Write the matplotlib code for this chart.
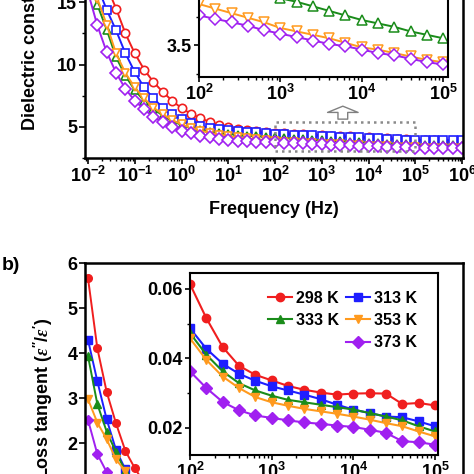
import numpy as np
import matplotlib
matplotlib.use("Agg")
import matplotlib.pyplot as plt
from matplotlib.ticker import LogLocator, FuncFormatter, MultipleLocator, NullFormatter

plt.rcParams['font.family'] = ['Liberation Sans', 'DejaVu Sans']
plt.rcParams['font.weight'] = 'bold'
plt.rcParams['axes.labelweight'] = 'bold'
plt.rcParams['mathtext.fontset'] = 'custom'
plt.rcParams['mathtext.rm'] = 'Liberation Sans:bold'
plt.rcParams['mathtext.bf'] = 'Liberation Sans:bold'
plt.rcParams['mathtext.it'] = 'Liberation Serif:italic:bold'

# frequency grid, 5 points per decade from 1e-2 to 1e6 Hz
freq = 10 ** np.linspace(-2, 6, 41)

temps = ['298 K', '313 K', '333 K', '353 K', '373 K']
colors = ['#f01e1e', '#1e1eff', '#1a8c1a', '#ff9a1e', '#a020f0']
markers = ['o', 's', '^', 'v', 'D']

# (a) dielectric constant
eps_298 = [20.5, 18.2, 16.3, 14.5, 12.5, 10.9, 9.6, 8.6, 7.8, 7.1, 6.5, 6.05, 5.7, 5.4, 5.15,
           4.95, 4.82, 4.72, 4.64, 4.57, 4.52, 4.48, 4.44, 4.40, 4.37, 4.33, 4.30, 4.26, 4.23,
           4.19, 4.16, 4.12, 4.09, 4.05, 4.01, 3.97, 3.94, 3.92, 3.90, 3.89, 3.88]
eps_313 = [18.5, 16.3, 14.4, 12.75, 10.9, 9.4, 8.16, 7.28, 6.55, 6.0, 5.6, 5.3, 5.08, 4.93, 4.82,
           4.74, 4.68, 4.62, 4.56, 4.50, 4.45, 4.42, 4.38, 4.35, 4.32, 4.28, 4.25, 4.22, 4.18,
           4.15, 4.12, 4.08, 4.05, 4.02, 3.98, 3.95, 3.93, 3.92, 3.92, 3.91, 3.91]
eps_333 = [17.0, 14.8, 12.8, 10.6, 9.1, 7.95, 7.1, 6.45, 5.9, 5.48, 5.15, 4.93, 4.76, 4.62, 4.5,
           4.42, 4.36, 4.30, 4.25, 4.20, 4.15, 4.10, 4.06, 4.01, 3.96, 3.91, 3.88, 3.84, 3.80,
           3.76, 3.72, 3.69, 3.66, 3.62, 3.59, 3.56, 3.54, 3.53, 3.52, 3.51, 3.50]
eps_353 = [17.5, 15.3, 13.2, 10.9, 9.33, 8.16, 7.28, 6.55, 6.0, 5.55, 5.2, 4.93, 4.7, 4.52, 4.38,
           4.26, 4.16, 4.08, 4.01, 3.94, 3.86, 3.82, 3.78, 3.74, 3.70, 3.65, 3.62, 3.59, 3.56,
           3.52, 3.48, 3.46, 3.43, 3.40, 3.37, 3.35, 3.33, 3.32, 3.31, 3.30, 3.29]
eps_373 = [15.8, 13.15, 11.0, 9.35, 8.05, 7.1, 6.4, 5.8, 5.35, 4.98, 4.7, 4.48, 4.3, 4.15, 4.04,
           3.96, 3.90, 3.85, 3.81, 3.78, 3.76, 3.73, 3.70, 3.67, 3.63, 3.60, 3.57, 3.54, 3.51,
           3.49, 3.46, 3.43, 3.41, 3.38, 3.35, 3.33, 3.31, 3.30, 3.29, 3.28, 3.27]

# (b) loss tangent
tan_298 = [5.67, 4.11, 3.14, 2.44, 1.83, 1.45, 1.12, 0.88, 0.68, 0.53, 0.42, 0.33, 0.26, 0.21,
           0.17, 0.14, 0.115, 0.097, 0.083, 0.071,
           0.0614, 0.0516, 0.0433, 0.0379, 0.0353, 0.0337, 0.0321, 0.0310, 0.0302, 0.0296,
           0.0299, 0.0300, 0.0299, 0.0269, 0.0272, 0.0265,
           0.026, 0.026, 0.027, 0.029, 0.033]
tan_313 = [4.30, 3.38, 2.53, 1.85, 1.42, 1.08, 0.84, 0.65, 0.50, 0.39, 0.30, 0.23, 0.18, 0.14,
           0.11, 0.09, 0.075, 0.064, 0.057, 0.052,
           0.0487, 0.0428, 0.0385, 0.0356, 0.0336, 0.0320, 0.0308, 0.0296, 0.0283, 0.0267,
           0.0253, 0.0243, 0.0233, 0.0231, 0.0219, 0.0205,
           0.019, 0.018, 0.018, 0.019, 0.021]
tan_333 = [3.94, 2.87, 2.26, 1.80, 1.38, 1.05, 0.80, 0.62, 0.48, 0.37, 0.29, 0.22, 0.17, 0.135,
           0.105, 0.085, 0.07, 0.06, 0.053, 0.049,
           0.0473, 0.0411, 0.0363, 0.0329, 0.0308, 0.0293, 0.0281, 0.0274, 0.0267, 0.0260,
           0.0253, 0.0243, 0.0233, 0.0222, 0.0205, 0.0190,
           0.018, 0.017, 0.017, 0.018, 0.020]
tan_353 = [2.98, 2.46, 2.09, 1.64, 1.38, 1.05, 0.80, 0.61, 0.47, 0.36, 0.28, 0.21, 0.165, 0.13,
           0.10, 0.082, 0.068, 0.058, 0.052, 0.048,
           0.0458, 0.0396, 0.0348, 0.0315, 0.0289, 0.0274, 0.0264, 0.0255, 0.0248, 0.0241,
           0.0233, 0.0224, 0.0214, 0.0205, 0.0190, 0.0176,
           0.017, 0.016, 0.016, 0.017, 0.019]
tan_373 = [2.52, 1.76, 1.36, 1.02, 0.78, 0.60, 0.46, 0.35, 0.27, 0.21, 0.16, 0.125, 0.098, 0.078,
           0.063, 0.053, 0.046, 0.041, 0.039, 0.038,
           0.0363, 0.0315, 0.0275, 0.0251, 0.0236, 0.0229, 0.0222, 0.0216, 0.0212, 0.0207,
           0.0203, 0.0195, 0.0186, 0.0162, 0.0159, 0.0152,
           0.015, 0.014, 0.014, 0.015, 0.017]

eps_all = [eps_298, eps_313, eps_333, eps_353, eps_373]
tan_all = [tan_298, tan_313, tan_333, tan_353, tan_373]
zoom = slice(20, 36)   # 1e2 .. 1e5 Hz shown in the insets
box_y = (3.05, 5.35)   # dotted box marking the zoomed region


def sci(v, pos):
    return r'$\mathbf{10^{%d}}$' % round(np.log10(v))


def style(ax, lw=1.8, major=4, minor=2.2):
    for s in ax.spines.values():
        s.set_linewidth(lw)
    ax.tick_params(which='major', direction='out', length=major, width=1.2,
                   labelsize=13, pad=1.5)
    ax.tick_params(which='minor', direction='out', length=minor, width=1.0)
    ax.tick_params(top=False, right=False, which='both')


def logx(ax):
    ax.set_xscale('log')
    ax.xaxis.set_major_locator(LogLocator(base=10, numticks=20))
    ax.xaxis.set_minor_locator(LogLocator(base=10, subs=np.arange(2, 10), numticks=20))
    ax.xaxis.set_major_formatter(FuncFormatter(sci))
    ax.xaxis.set_minor_formatter(NullFormatter())


fig = plt.figure(figsize=(4.74, 4.74), dpi=100)
P = 474.0

# ---- panel (a)
ax1 = fig.add_axes([85 / P, 1 - 158 / P, 378 / P, 218 / P])
for y, c, m, lab in zip(eps_all, colors, markers, temps):
    ax1.plot(freq, y, color=c, marker=m, ms=6, mfc='white', mec=c, mew=1.2, lw=1.4, label=lab)
logx(ax1)
ax1.set_xlim(10 ** -2.064, 10 ** 6.02)
ax1.set_ylim(2.5, 20)
ax1.yaxis.set_major_locator(MultipleLocator(5))
ax1.yaxis.set_minor_locator(MultipleLocator(2.5))
style(ax1)
ax1.set_xlabel('Frequency (Hz)', fontsize=13, labelpad=11)
ax1.set_ylabel('Dielectric constant', fontsize=13, labelpad=13)

ax1.plot([1e2, 1e5, 1e5, 1e2, 1e2], [box_y[0], box_y[0], box_y[1], box_y[1], box_y[0]],
         color='#8a8a8a', lw=1.8, ls=(0, (1, 1.6)))
ax1.annotate('', xy=(10 ** 3.45, 6.66), xytext=(10 ** 3.45, 5.62),
             arrowprops=dict(arrowstyle='simple,head_length=0.45,head_width=2.2,tail_width=0.7',
                             fc='white', ec='#808080', lw=1.0, shrinkA=0, shrinkB=0,
                             mutation_scale=10))

ins1 = fig.add_axes([199 / P, 1 - 77 / P, 249 / P, 134.5 / P])
for y, c, m in zip(eps_all, colors, markers):
    ins1.plot(freq[zoom], y[zoom], color=c, marker=m, ms=6.5, mfc='white', mec=c, mew=1.1, lw=1.4)
logx(ins1)
ins1.set_xlim(100, 10 ** 5.06)
ins1.set_ylim(3.22, 4.4)
ins1.yaxis.set_major_locator(MultipleLocator(0.5))
ins1.yaxis.set_minor_locator(MultipleLocator(0.25))
style(ins1, lw=1.5, major=3.5, minor=2)

# ---- panel (b)
ax2 = fig.add_axes([85 / P, 1 - 533.3 / P, 378 / P, 270 / P])
for y, c, m, lab in zip(tan_all, colors, markers, temps):
    ax2.plot(freq, y, color=c, marker=m, ms=5.5, lw=1.4, label=lab)
logx(ax2)
ax2.set_xlim(10 ** -2.064, 10 ** 6.02)
ax2.set_ylim(0, 6)
ax2.yaxis.set_major_locator(MultipleLocator(1))
style(ax2)
ax2.set_ylabel("Loss tangent ($\\varepsilon''/\\varepsilon'$)", fontsize=13, labelpad=9)
fig.text(2 / P, 1 - 266 / P, 'b)', fontsize=14, fontweight='bold', va='center')

ins2 = fig.add_axes([190 / P, 1 - 455 / P, 248 / P, 182 / P])
hs = []
for y, c, m, lab in zip(tan_all, colors, markers, temps):
    h, = ins2.plot(freq[zoom], y[zoom], color=c, marker=m, ms=6, lw=1.5, label=lab)
    hs.append(h)
logx(ins2)
ins2.set_xlim(100, 1.09e5)
ins2.set_ylim(0.01223, 0.0646)
ins2.yaxis.set_major_locator(MultipleLocator(0.02))
ins2.yaxis.set_minor_locator(MultipleLocator(0.01))
ins2.yaxis.set_major_formatter(FuncFormatter(lambda v, p: '%.2f' % v))
style(ins2, lw=1.5, major=3.5, minor=2)

blank = plt.Line2D([], [], ls='none', marker=None)
order = [hs[0], hs[2], blank, hs[1], hs[3], hs[4]]
labels = [temps[0], temps[2], '', temps[1], temps[3], temps[4]]
ins2.legend(order, labels, ncol=2, loc='upper right', bbox_to_anchor=(0.955, 0.955),
            frameon=False, fontsize=11.5, handlelength=1.5, handletextpad=0.25,
            columnspacing=0.45, labelspacing=0.45, borderaxespad=0.2)

fig.savefig('out.png', dpi=100)
